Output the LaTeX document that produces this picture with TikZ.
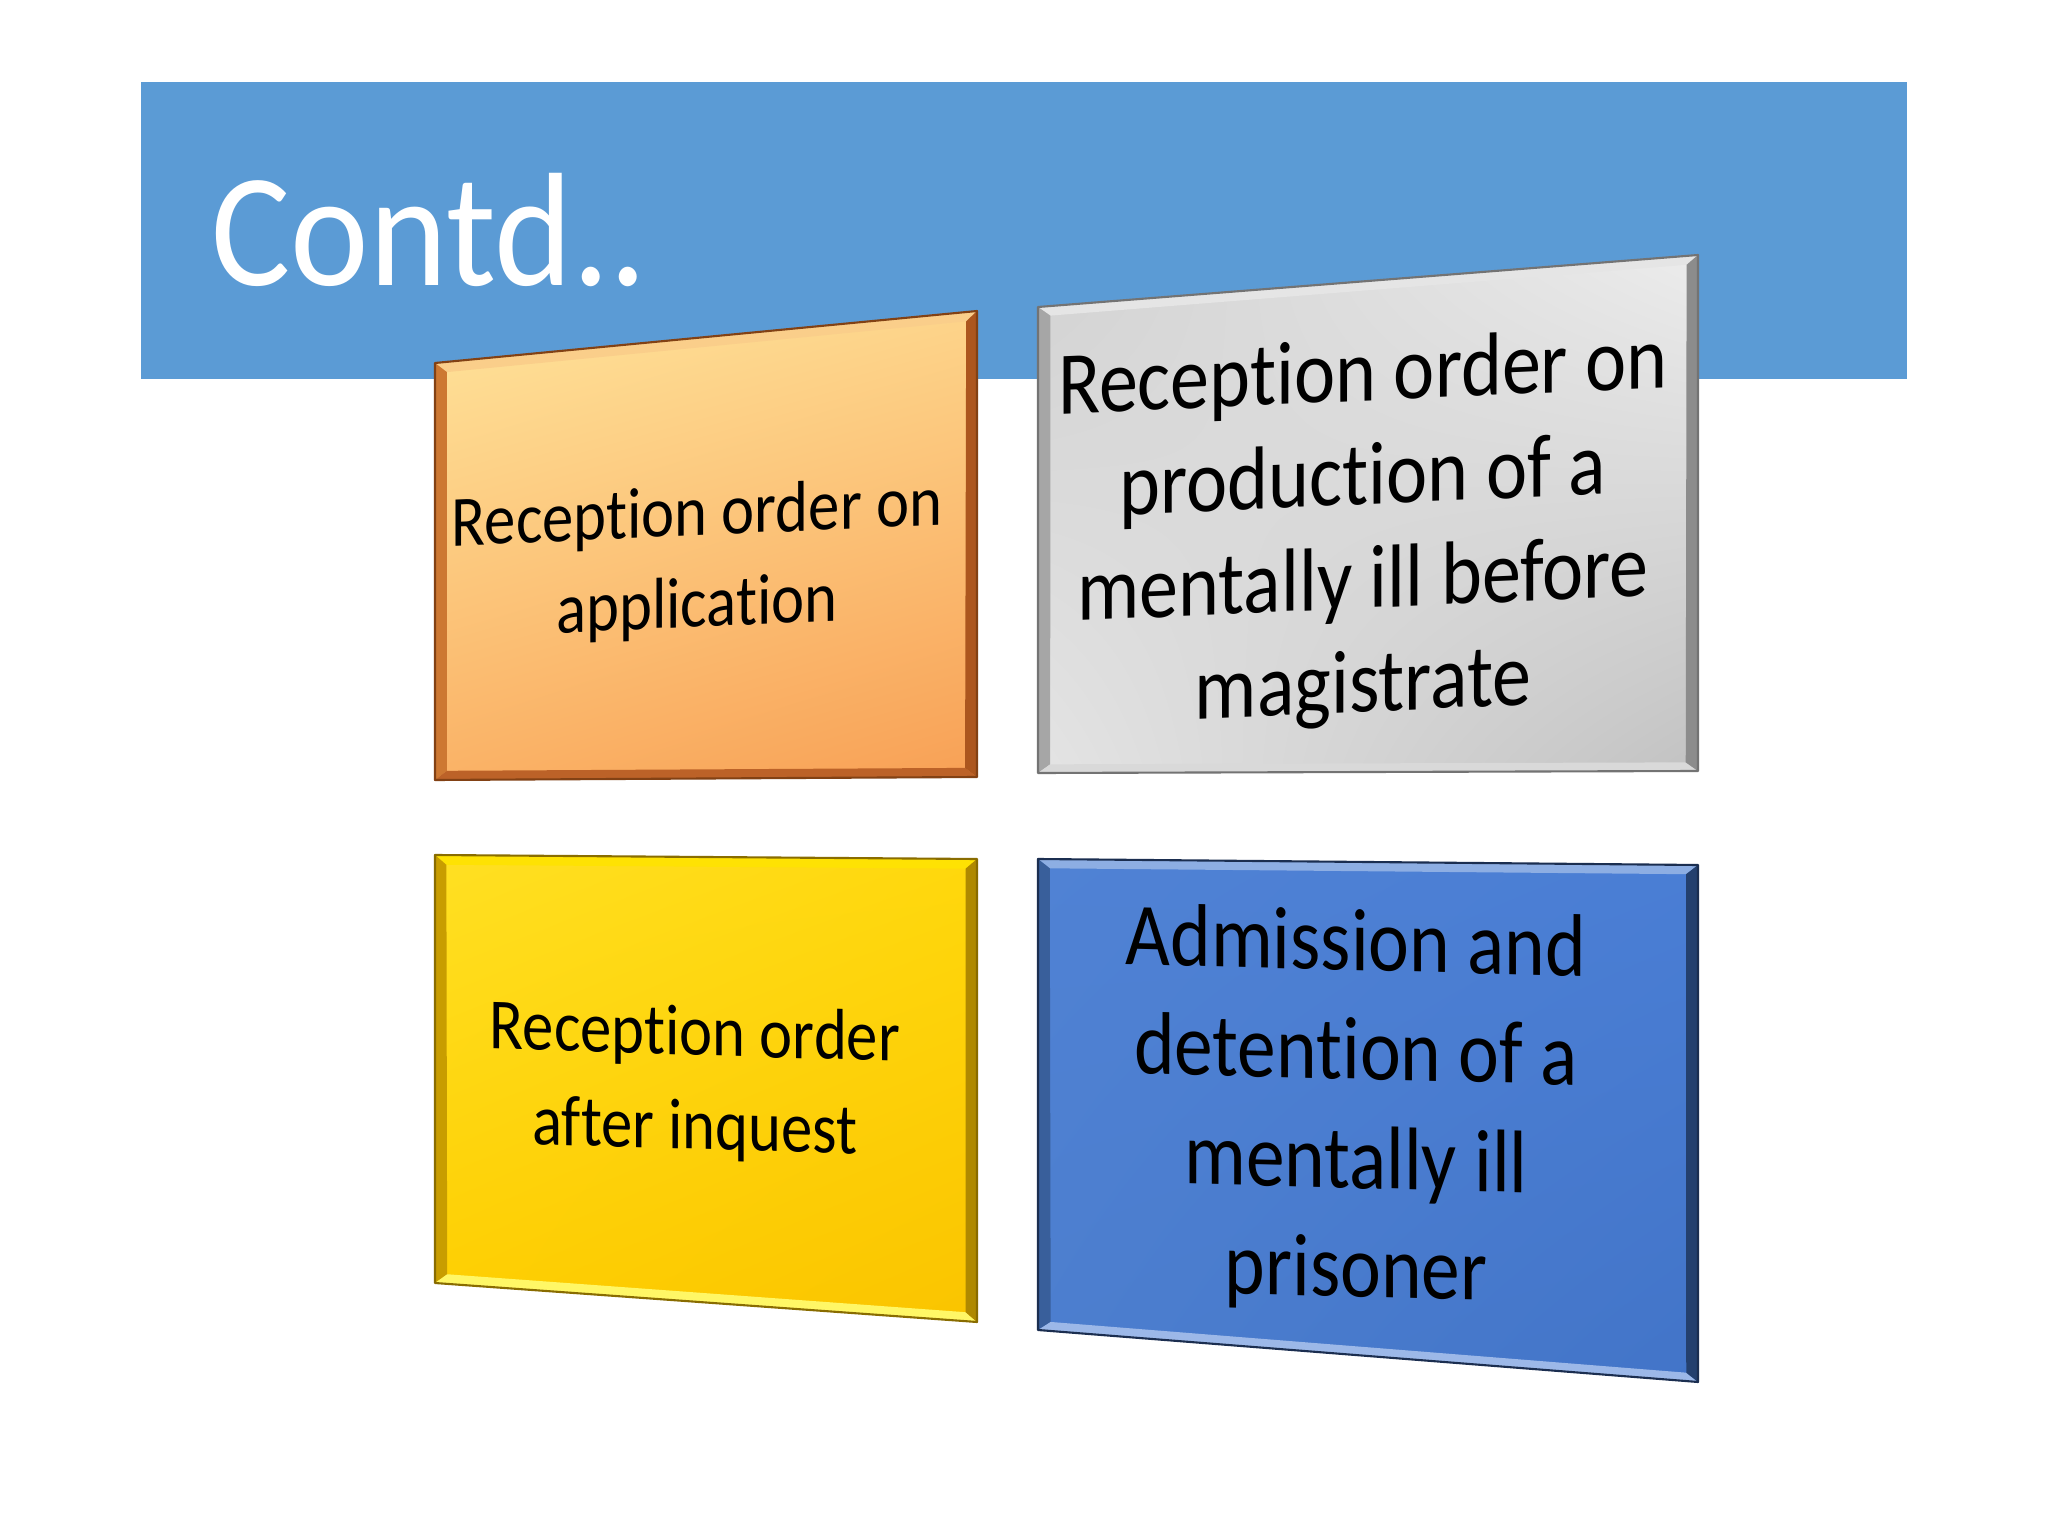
\documentclass[tikz,border=0pt]{standalone}
\usepackage{fontspec}
\newfontfamily\titlefont[FakeStretch=0.92, RawFeature={-liga;-clig}]{Carlito}
\newfontfamily\panelfont[FakeStretch=0.87, RawFeature={-liga;-clig}]{Carlito}
\usepackage{xcolor}
\usetikzlibrary{calc, shadings}
\definecolor{headblue}{RGB}{91,155,213}
\definecolor{orangeA}{RGB}{255,228,155}
\definecolor{orangeB}{RGB}{253,212,138}
\definecolor{orangeC}{RGB}{250,178,102}
\definecolor{orangeD}{RGB}{248,160,85}
\definecolor{orangetopband}{RGB}{250,206,138}
\definecolor{orangeleftband}{RGB}{205,120,50}
\definecolor{orangebotband}{RGB}{188,98,40}
\definecolor{orangerightband}{RGB}{172,86,30}
\definecolor{orangeline}{RGB}{130,65,20}
\definecolor{greyA}{RGB}{210,210,210}
\definecolor{greyB}{RGB}{236,236,236}
\definecolor{greyC}{RGB}{228,228,228}
\definecolor{greyD}{RGB}{194,194,194}
\definecolor{yellowA}{RGB}{255,224,35}
\definecolor{yellowB}{RGB}{255,216,12}
\definecolor{yellowC}{RGB}{254,206,0}
\definecolor{yellowD}{RGB}{250,196,0}
\definecolor{blueA}{RGB}{80,130,212}
\definecolor{blueB}{RGB}{74,126,213}
\definecolor{blueC}{RGB}{76,126,206}
\definecolor{blueD}{RGB}{66,116,200}
% bevelled rim of a panel with corners #1a..#1d
% #2 top, #3 left, #4 bottom, #5 right band, #6 outline
\newcommand{\bevel}[6]{%
  \coordinate (#1m) at ($(#1a)!0.5!(#1c)$);
  \foreach \k in {a,b,c,d}
    \coordinate (#1i\k) at ($(#1\k)!0.15cm!(#1m)$);
  \fill[#2] (#1a) -- (#1b) -- (#1ib) -- (#1ia) -- cycle;
  \fill[#3] (#1a) -- (#1ia) -- (#1id) -- (#1d) -- cycle;
  \fill[#4] (#1d) -- (#1id) -- (#1ic) -- (#1c) -- cycle;
  \fill[#5] (#1b) -- (#1c) -- (#1ic) -- (#1ib) -- cycle;
  \draw[#6, line width=0.6pt, line join=round] (#1a) -- (#1b) -- (#1c) -- (#1d) -- cycle;
}

\begin{document}
\begin{tikzpicture}[
  paneltext/.style={align=center, inner sep=0pt, text=black},
  small/.style={font=\panelfont\fontsize{20.5}{26}\selectfont},
  large/.style={font=\panelfont\fontsize{25.5}{29.5}\selectfont}
]
  \useasboundingbox (0,0) rectangle (20.48,-15.36);
  \fill[white] (0,0) rectangle (20.48,-15.36);
  % header band
  \fill[headblue] (1.41,-0.82) rectangle (19.07,-3.79);
  \node[anchor=base west, inner sep=0pt, text=white,
    font=\titlefont\fontsize{46}{50}\selectfont] (title) at (2.11,-2.86) {Contd..};

  % orange panel
  \coordinate (oa) at (4.35,-3.63);  \coordinate (ob) at (9.77,-3.11);
  \coordinate (oc) at (9.77,-7.77);  \coordinate (od) at (4.35,-7.80);
  \shade[upper left=orangeA, upper right=orangeB, lower left=orangeC, lower right=orangeD]
    (oa) -- (ob) -- (oc) -- (od) -- cycle;
  \bevel{o}{orangetopband}{orangeleftband}{orangebotband}{orangerightband}{orangeline}
  \node[paneltext, small, yslant=0.044] (apply) at (6.97,-5.62)
    {Reception order on\\application};

  % grey panel
  \coordinate (ga) at (10.38,-3.07); \coordinate (gb) at (16.98,-2.55);
  \coordinate (gc) at (16.98,-7.71); \coordinate (gd) at (10.38,-7.73);
  \shade[upper left=greyA, upper right=greyB, lower left=greyC, lower right=greyD]
    (ga) -- (gb) -- (gc) -- (gd) -- cycle;
  \bevel{g}{black!10}{black!35}{black!15}{black!45}{black!55}
  \node[paneltext, large, yslant=0.044] (magis) at (13.63,-5.33)
    {Reception order on\\production of a\\mentally ill before\\magistrate};

  % yellow panel
  \coordinate (ya) at (4.35,-8.55);  \coordinate (yb) at (9.77,-8.59);
  \coordinate (yc) at (9.77,-13.22); \coordinate (yd) at (4.35,-12.83);
  \shade[upper left=yellowA, upper right=yellowB, lower left=yellowC, lower right=yellowD]
    (ya) -- (yb) -- (yc) -- (yd) -- cycle;
  \bevel{y}{yellow!85!orange}{yellowD!80!black}{yellow!60!white}{yellowD!70!black}{yellowD!55!black}
  \node[paneltext, font=\panelfont\fontsize{20.5}{26.8}\selectfont, yslant=-0.031] (inquest)
    at (6.95,-10.83) {Reception order\\after inquest};

  % blue panel
  \coordinate (ba) at (10.38,-8.59); \coordinate (bb) at (16.98,-8.65);
  \coordinate (bc) at (16.98,-13.82); \coordinate (bd) at (10.38,-13.30);
  \shade[upper left=blueA, upper right=blueB, lower left=blueC, lower right=blueD]
    (ba) -- (bb) -- (bc) -- (bd) -- cycle;
  \bevel{b}{blueA!65!white}{blueC!75!black}{blueB!55!white}{blueD!55!black}{blueD!40!black}
  \node[paneltext, font=\panelfont\fontsize{25.3}{31}\selectfont, yslant=-0.026] (prison)
    at (13.56,-11.10) {Admission and\\detention of a\\mentally ill\\prisoner};
\end{tikzpicture}
\end{document}
